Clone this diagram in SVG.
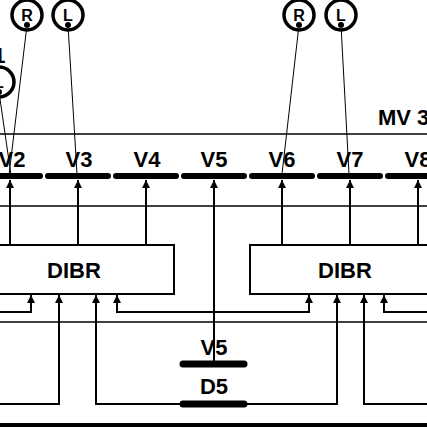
<svg xmlns="http://www.w3.org/2000/svg" width="427" height="427" viewBox="0 0 427 427">
<style>
text{font-family:"Liberation Sans",Arial,sans-serif;font-weight:bold;fill:#000}
.lbl{font-size:22px;text-anchor:middle}
.cl{font-size:16px;text-anchor:middle}
.circ{fill:#fff;stroke:#000;stroke-width:3.5}
.bar{stroke:#000;stroke-width:6;stroke-linecap:round}
.thin{stroke:#000;stroke-width:1.5;fill:none}
.box{fill:#fff;stroke:#000;stroke-width:2}
.arr{stroke:#000;stroke-width:2;fill:none;marker-end:url(#ah)}
.ray{stroke:#000;stroke-width:1;fill:none}
</style>
<defs>
<marker id="ah" viewBox="0 0 10 10" refX="10" refY="5" markerWidth="9" markerHeight="8" markerUnits="userSpaceOnUse" orient="auto">
<path d="M0,0 L10,5 L0,10 z" fill="#000"/>
</marker>
</defs>
<rect width="427" height="427" fill="#fff"/>

<g id="frame">
<line class="thin" x1="0" y1="134" x2="427" y2="134"/>
<line class="thin" x1="0" y1="206" x2="427" y2="206"/>
<line class="thin" x1="0" y1="322" x2="427" y2="322"/>
<rect x="0" y="423" width="427" height="4" fill="#000"/>
<text x="5.5" y="63" style="font-size:22px;text-anchor:end">MV 1</text>
<text x="378" y="125" style="font-size:22px">MV 3</text>
</g>

<g id="connectors">
<line class="ray" x1="-1" y1="92" x2="11" y2="175"/>
<line class="ray" x1="27" y1="25" x2="9" y2="175"/>
<line class="ray" x1="68" y1="25" x2="77" y2="174"/>
<line class="ray" x1="299" y1="25" x2="282" y2="174"/>
<line class="ray" x1="341" y1="25" x2="349" y2="174"/>
<line class="arr" x1="10" y1="245" x2="10" y2="180"/>
<line class="arr" x1="78" y1="245" x2="78" y2="180"/>
<line class="arr" x1="146" y1="245" x2="146" y2="180"/>
<line class="arr" x1="214" y1="364" x2="214" y2="180"/>
<line class="arr" x1="282" y1="245" x2="282" y2="180"/>
<line class="arr" x1="350" y1="245" x2="350" y2="180"/>
<line class="arr" x1="418" y1="245" x2="418" y2="180"/>
<path class="arr" d="M0,312 H31 V295"/>
<path class="arr" d="M0,404 H59 V295"/>
<path class="arr" d="M183,404 H96 V295"/>
<path class="arr" d="M214,312 H117 V295"/>
<path class="arr" d="M214,312 H309 V295"/>
<path class="arr" d="M247,404 H337 V295"/>
<path class="arr" d="M427,404 H364 V295"/>
<path class="arr" d="M427,312 H384 V295"/>
</g>

<g id="cam-L0"><circle class="circ" cx="-1" cy="82" r="15"/><text class="cl" x="-1" y="88">L</text><circle cx="-1" cy="92" r="3"/></g>
<g id="cam-R1"><circle class="circ" cx="27" cy="15" r="15"/><text class="cl" x="27" y="21">R</text><circle cx="27" cy="25" r="3"/></g>
<g id="cam-L1"><circle class="circ" cx="68" cy="15" r="15"/><text class="cl" x="68" y="21">L</text><circle cx="68" cy="25" r="3"/></g>
<g id="cam-R2"><circle class="circ" cx="299" cy="15" r="15"/><text class="cl" x="299" y="21">R</text><circle cx="299" cy="25" r="3"/></g>
<g id="cam-L2"><circle class="circ" cx="341" cy="15" r="15"/><text class="cl" x="341" y="21">L</text><circle cx="341" cy="25" r="3"/></g>

<g id="views">
<text class="lbl" x="12" y="167">V2</text>
<text class="lbl" x="79" y="167">V3</text>
<text class="lbl" x="147" y="167">V4</text>
<text class="lbl" x="214" y="167">V5</text>
<text class="lbl" x="282" y="167">V6</text>
<text class="lbl" x="350" y="167">V7</text>
<text class="lbl" x="418" y="167">V8</text>
<line class="bar" x1="-20" y1="176" x2="40" y2="176"/>
<line class="bar" x1="48" y1="176" x2="108" y2="176"/>
<line class="bar" x1="116" y1="176" x2="176" y2="176"/>
<line class="bar" x1="184" y1="176" x2="244" y2="176"/>
<line class="bar" x1="252" y1="176" x2="312" y2="176"/>
<line class="bar" x1="320" y1="176" x2="380" y2="176"/>
<line class="bar" x1="388" y1="176" x2="448" y2="176"/>
</g>

<g id="dibr-left"><rect class="box" x="-30" y="245" width="204" height="49"/><text class="lbl" x="74" y="278">DIBR</text></g>
<g id="dibr-right"><rect class="box" x="250" y="245" width="200" height="49"/><text class="lbl" x="345" y="278">DIBR</text></g>

<g id="v5-src"><text class="lbl" x="214" y="355">V5</text><line class="bar" x1="183" y1="364" x2="244" y2="364" style="stroke-width:7"/></g>
<g id="d5-src"><text class="lbl" x="214" y="394">D5</text><line class="bar" x1="183" y1="404" x2="244" y2="404" style="stroke-width:7"/></g>
</svg>
